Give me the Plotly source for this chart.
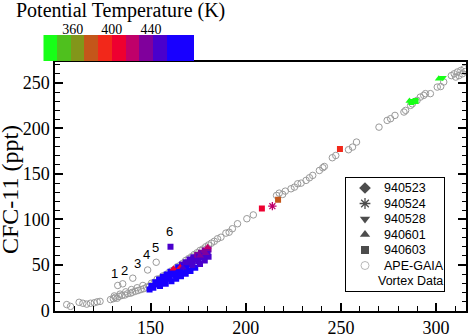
import plotly.graph_objects as go

# ---- potential temperature colour classes (K) ----
theta_edges = [330, 344, 358, 372, 386, 400, 414, 428, 442, 456, 470, 484]
bin_colors = ["#17FF17", "#4FC01E", "#82961A", "#C4561A", "#F2281A", "#EE0030",
              "#C0006A", "#80009C", "#4A00CC", "#1800FF", "#1800FF"]
theta_ticks = [360, 400, 440]
n2o_ticks = [150, 200, 250, 300]

# ---- APE-GAIA vortex data (CFC-11 vs N2O) ----
ape_x = [106, 108, 112.5, 114.5, 116.5, 118.5, 120.5, 122, 123.5,
         129, 130.5, 131.5, 132.5, 133.5, 135, 136.5, 138, 139.5, 140.5, 142, 143.5, 145, 146.5, 148, 149.5,
         131, 134, 137, 140, 143, 146,
         132.8, 135.4, 140.7, 148.5, 153,
         150.5, 152, 153.5, 155, 156.5, 158, 159.5, 161, 162.5, 164, 165.5, 167, 168.5, 170, 171.5, 173,
         174.5, 176, 177.5, 179, 180.5, 182, 183.5, 185.2, 187, 189.6, 191.3, 193, 195.7,
         200.6, 204,
         216.2, 217.6, 219.4, 220.8, 223.8, 225.6, 227.3, 229.1, 231.7, 233.5, 235.2, 238.7, 240.5, 241.3,
         245.5, 247.3, 254, 256.1, 258.2, 270, 274.3, 276.1, 278.4, 283.1, 284, 286.6, 287.5, 290, 291.7,
         293.5, 294.4, 297, 300.6, 302.4, 304, 308, 309.5, 310.3, 311.2, 312, 313, 313.8, 314.7, 315.3]
ape_y = [6.5, 4.5, 9, 8, 7, 8, 8.5, 9.5, 10,
         12, 13, 14.5, 13.5, 15.5, 16.5, 17, 18.5, 19, 20, 21, 22, 23, 24, 25.5, 27,
         16, 18, 20.5, 23, 25, 27.5,
         27.5, 29.3, 35.5, 44.5, 53,
         30, 31, 34.5, 35, 38, 39, 41.5, 43.5, 45, 48, 49.5, 52, 55, 57, 59, 61.5,
         63.5, 66, 67.5, 70, 72, 74, 76, 78.8, 80.5, 85, 86, 89.8, 95.3,
         100.8, 105,
         126.4, 128.9, 127.5, 131.1, 133.7, 135.5, 139.2, 139.9, 142.9, 145.8, 148.4, 153.8, 156.8, 158.2,
         167.8, 170.3, 176.6, 179.5, 185, 201.4, 208.8, 210.7, 214.3, 218, 219.8, 225.3, 227, 230.8, 234.4,
         236.3, 238.2, 238.2, 245.4, 246, 251, 258, 260, 256.4, 262, 258, 263.7, 260, 265.6, 262.5]

# ---- balloon flights, coloured by potential temperature ----
f940603_x = [149.5, 150.5, 151.5, 152.5, 153.5, 154.5, 155.5, 156.5, 157.5, 158.5, 159.5, 160.5, 161.5,
             162.5, 163.5, 164.5, 165.5, 166.5, 167.5, 168.5, 169.5, 170.5, 171.5, 172.5, 173.5, 174.5,
             175.5, 176.5, 177.5, 178.5, 179.5, 180.5,
             155, 158, 161, 163.5, 166, 168.5, 171, 173.5, 176, 178.5, 180.5,
             157, 160, 163, 166, 169, 172, 175, 178, 180,
             160.5, 208.5, 217, 249.5, 287, 289.2]
f940603_y = [23, 27, 25, 31, 28.5, 34, 31, 37, 34, 39.5, 37, 42.5, 40,
             44, 42.5, 47.5, 45, 50.5, 48, 53, 51, 56, 53.5, 58.5, 56.5, 61,
             59, 63.5, 62, 66, 64.5, 67,
             27, 29.5, 32, 35, 37.5, 40.5, 43.5, 47, 51, 55, 59,
             31.5, 35, 38.5, 42, 46.5, 50, 54, 58, 62,
             70, 112, 121.6, 177.3, 229, 230]
f940603_t = [470, 468, 470, 466, 468, 465, 470, 462, 466, 460, 468, 458, 465,
             460, 462, 457, 460, 452, 458, 450, 455, 448, 452, 446, 450, 440,
             446, 438, 444, 436, 440, 432,
             470, 468, 466, 466, 464, 462, 460, 458, 455, 452, 450,
             468, 466, 464, 460, 458, 455, 452, 448, 446,
             449, 410, 378, 395, 338, 338]

f940601_x = [150, 153, 156, 159, 161, 162.1, 164, 165.6, 167, 170, 173, 176, 178, 179, 180, 286, 301.4]
f940601_y = [25.5, 29.5, 33, 36, 39, 45.8, 42.5, 47.6, 47, 52.5, 55, 60, 65.5, 63, 69.6, 230, 254.6]
f940601_t = [468, 466, 464, 462, 460, 405, 458, 405, 452, 448, 444, 440, 430, 436, 420, 338, 338]

f940528_x = [303.5]
f940528_y = [255.7]
f940528_t = [338]

f940524_x = [214]
f940524_y = [114.6]
f940524_t = [416]

f940523_x = [158, 171.5]
f940523_y = [37.5, 55]
f940523_t = [462, 446]

# point labels along the upper branch
label_text = ["1", "2", "3", "4", "5", "6"]
label_x = [131.3, 136.3, 143.3, 147.8, 152.7, 160]
label_y = [40.7, 44, 51.3, 61.5, 69.5, 86.8]

legend_names = ["940523", "940524", "940528", "940601", "940603", "APE-GAIA<br>Vortex Data"]

# discrete colour scale built from the temperature classes
t0, t1 = theta_edges[0], theta_edges[-1]
cscale = []
for i, c in enumerate(bin_colors):
    lo = (theta_edges[i] - t0) / (t1 - t0)
    hi = (theta_edges[i + 1] - t0) / (t1 - t0)
    cscale += [[lo, c], [hi, c]]

SERIF = "Times New Roman, Liberation Serif, serif"
SANS = "Arial, Liberation Sans, sans-serif"

fig = go.Figure()

fig.add_trace(go.Scatter(
    x=ape_x, y=ape_y, mode="markers",
    marker=dict(symbol="circle-open", size=6.5, color="#9a9a9a", line=dict(width=1, color="#9a9a9a")),
    xaxis="x", yaxis="y"))


def flight(xs, ys, ts, symbol, size):
    mk = dict(symbol=symbol, size=size, color=ts, colorscale=cscale, cmin=t0, cmax=t1)
    if symbol.endswith("open"):
        mk["line"] = dict(width=1.3, color=ts, colorscale=cscale, cmin=t0, cmax=t1)
    else:
        mk["line"] = dict(width=0)
    return go.Scatter(x=xs, y=ys, mode="markers", marker=mk, xaxis="x", yaxis="y")


fig.add_trace(flight(f940603_x, f940603_y, f940603_t, "square", 6))
fig.add_trace(flight(f940601_x, f940601_y, f940601_t, "triangle-up", 7))
fig.add_trace(flight(f940528_x, f940528_y, f940528_t, "triangle-down", 7))
fig.add_trace(flight(f940524_x, f940524_y, f940524_t, "asterisk-open", 7))
fig.add_trace(flight(f940523_x, f940523_y, f940523_t, "diamond", 7))

# colour bar drawn as a one-row heatmap
centers = [(theta_edges[i] + theta_edges[i + 1]) / 2 for i in range(len(bin_colors))]
fig.add_trace(go.Heatmap(
    x=centers, y=[0], z=[centers], colorscale=cscale, zmin=t0, zmax=t1,
    showscale=False, xaxis="x2", yaxis="y2", hoverinfo="skip"))

# legend box
leg_rows = [10, 25.5, 41, 56.5, 72, 87.5]
leg_symbols = ["diamond", "asterisk-open", "triangle-down", "triangle-up", "square", "circle-open"]
leg_colors = ["black", "black", "black", "black", "black", "#9a9a9a"]
leg_sizes = [9, 9, 9, 9, 8, 8]
fig.add_trace(go.Scatter(
    x=[19] * 6, y=leg_rows, mode="markers",
    marker=dict(symbol=leg_symbols, size=leg_sizes, color=leg_colors,
                line=dict(width=[0, 1.3, 0, 0, 0, 1], color=leg_colors)),
    xaxis="x3", yaxis="y3", hoverinfo="skip"))

annotations = []
for i, name in enumerate(legend_names):
    if "<br>" in name:
        first, second = name.split("<br>")
        annotations.append(dict(x=35.7, y=leg_rows[i], xref="x3", yref="y3", text=first,
                                showarrow=False, xanchor="left", yanchor="middle",
                                font=dict(family=SANS, size=12.5, color="black")))
        annotations.append(dict(x=30, y=leg_rows[i] + 15.5, xref="x3", yref="y3", text=second,
                                showarrow=False, xanchor="left", yanchor="middle",
                                font=dict(family=SANS, size=12.5, color="black")))
    else:
        annotations.append(dict(x=35.7, y=leg_rows[i], xref="x3", yref="y3", text=name,
                                showarrow=False, xanchor="left", yanchor="middle",
                                font=dict(family=SANS, size=12.5, color="black")))

for t, x, y in zip(label_text, label_x, label_y):
    annotations.append(dict(x=x, y=y, xref="x", yref="y", text=t, showarrow=False,
                            font=dict(family=SANS, size=13, color="black")))

annotations.append(dict(x=120 / 474, y=1 - 10 / 334, xref="paper", yref="paper",
                        text="Potential Temperature (K)", showarrow=False,
                        xanchor="center", yanchor="middle",
                        font=dict(family=SERIF, size=20, color="black")))
annotations.append(dict(x=10 / 474, y=1 - 190 / 334, xref="paper", yref="paper",
                        text="CFC-11 (ppt)", showarrow=False, textangle=-90,
                        xanchor="center", yanchor="middle",
                        font=dict(family=SERIF, size=24, color="black")))

tickfont = dict(family=SERIF, size=18, color="black")
plain = dict(showgrid=False, zeroline=False, automargin=False)
fig.update_layout(
    width=474, height=334, margin=dict(l=0, r=0, t=0, b=0, autoexpand=False),
    paper_bgcolor="white", plot_bgcolor="white", showlegend=False,
    annotations=annotations,
    xaxis=dict(domain=[55.3 / 474, 466 / 474], range=[100, 315.7], anchor="y",
               tickmode="array", tickvals=n2o_ticks,
               ticks="inside", ticklen=8, tickwidth=1.5, tickcolor="black",
               minor=dict(dtick=10, tick0=0, ticks="inside", ticklen=4.5, tickwidth=1.2, tickcolor="black"),
               showline=True, linewidth=2, linecolor="black", mirror=True,
               tickfont=tickfont, **plain),
    yaxis=dict(domain=[23.5 / 334, 272.5 / 334], range=[0, 273.5], anchor="x",
               tick0=0, dtick=50, ticks="inside", ticklen=8, tickwidth=1.5, tickcolor="black",
               minor=dict(dtick=10, tick0=0, ticks="inside", ticklen=4.5, tickwidth=1.2, tickcolor="black"),
               showline=True, linewidth=2, linecolor="black", mirror="ticks",
               tickfont=tickfont, **plain),
    xaxis2=dict(domain=[43.3 / 474, 194 / 474], range=[t0, t1], anchor="y2", side="top",
                tickvals=theta_ticks, ticks="", showline=False, ticklabelstandoff=-3,
                tickfont=dict(family=SERIF, size=14, color="black"), **plain),
    yaxis2=dict(domain=[(334 - 61) / 334, (334 - 35) / 334], range=[-0.5, 0.5], anchor="x2",
                visible=False, **plain),
    xaxis3=dict(domain=[346 / 474, 444 / 474], range=[0, 98], anchor="y3",
                showline=True, mirror=True, linewidth=1.3, linecolor="black",
                ticks="", showticklabels=False, **plain),
    yaxis3=dict(domain=[(334 - 291) / 334, (334 - 178) / 334], range=[113, 0], anchor="x3",
                showline=True, mirror=True, linewidth=1.3, linecolor="black",
                ticks="", showticklabels=False, **plain),
)

fig.write_html("out.html")
